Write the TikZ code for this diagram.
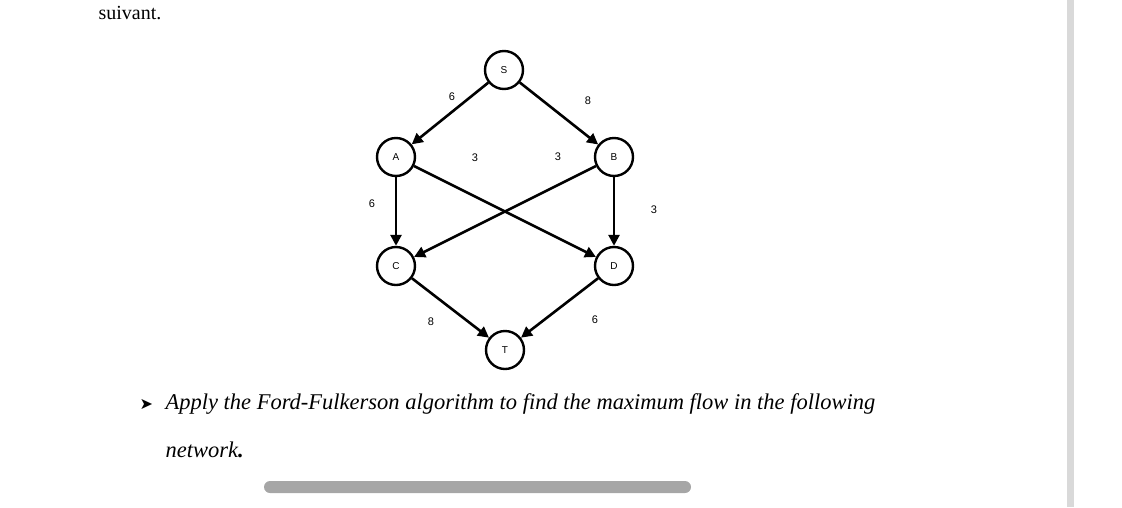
\documentclass[tikz,border=0pt]{standalone}
\usepackage{fontspec}
\setmainfont{Liberation Serif}
\newfontfamily\arrowfont{DejaVu Sans}
\newfontfamily\labfont{Liberation Sans}
\usetikzlibrary{arrows.meta}
\begin{document}
\begin{tikzpicture}[x=1pt,y=-1pt,
  vtx/.style={circle,draw,line width=2.4pt,minimum size=38pt,inner sep=0pt,font=\labfont\fontsize{10}{10}\selectfont},
  edge/.style={line width=2.6pt,-{Triangle[length=11pt,width=11pt]}},
  caplab/.style={font=\labfont\fontsize{11}{11}\selectfont}]
\useasboundingbox (0,0) rectangle (1122,507);
\fill[gray!30] (1067,0) rectangle (1074,507);
\fill[gray!70,rounded corners=6pt] (264,481) rectangle (691,493);
\node[anchor=base west,font=\fontsize{20}{20}\selectfont] (hdr) at (95,19) {suivant.};
\node (S) [vtx] at (504,70) {S};
\node (A) [vtx] at (396,157) {A};
\node (B) [vtx] at (614,157) {B};
\node (C) [vtx] at (396,266) {C};
\node (D) [vtx] at (614,266) {D};
\node (T) [vtx] at (505,350) {T};
\draw[edge] (S) -- (A);
\draw[edge] (S) -- (B);
\draw[edge] (A) -- (C);
\draw[edge] (B) -- (D);
\draw[edge] (A) -- (D);
\draw[edge] (B) -- (C);
\draw[edge] (C) -- (T);
\draw[edge] (D) -- (T);
\node[caplab] (l1) at (452,97) {6};
\node[caplab] (l2) at (588,101) {8};
\node[caplab] (l3) at (475,158) {3};
\node[caplab] (l4) at (558,157) {3};
\node[caplab] (l5) at (372,204) {6};
\node[caplab] (l6) at (654,210) {3};
\node[caplab] (l7) at (431,322) {8};
\node[caplab] (l8) at (595,320) {6};
\node[anchor=base west,font=\arrowfont\fontsize{16}{16}\selectfont] (bul) at (136,409) {➤};
\node[anchor=base west,font=\itshape\fontsize{22.5}{22.5}\selectfont] (q1) at (162,409) {Apply the Ford-Fulkerson algorithm to find the maximum flow in the following};
\node[anchor=base west,font=\itshape\fontsize{22.5}{22.5}\selectfont] (q2) at (162,457) {network\textbf{.}};
\end{tikzpicture}
\end{document}
